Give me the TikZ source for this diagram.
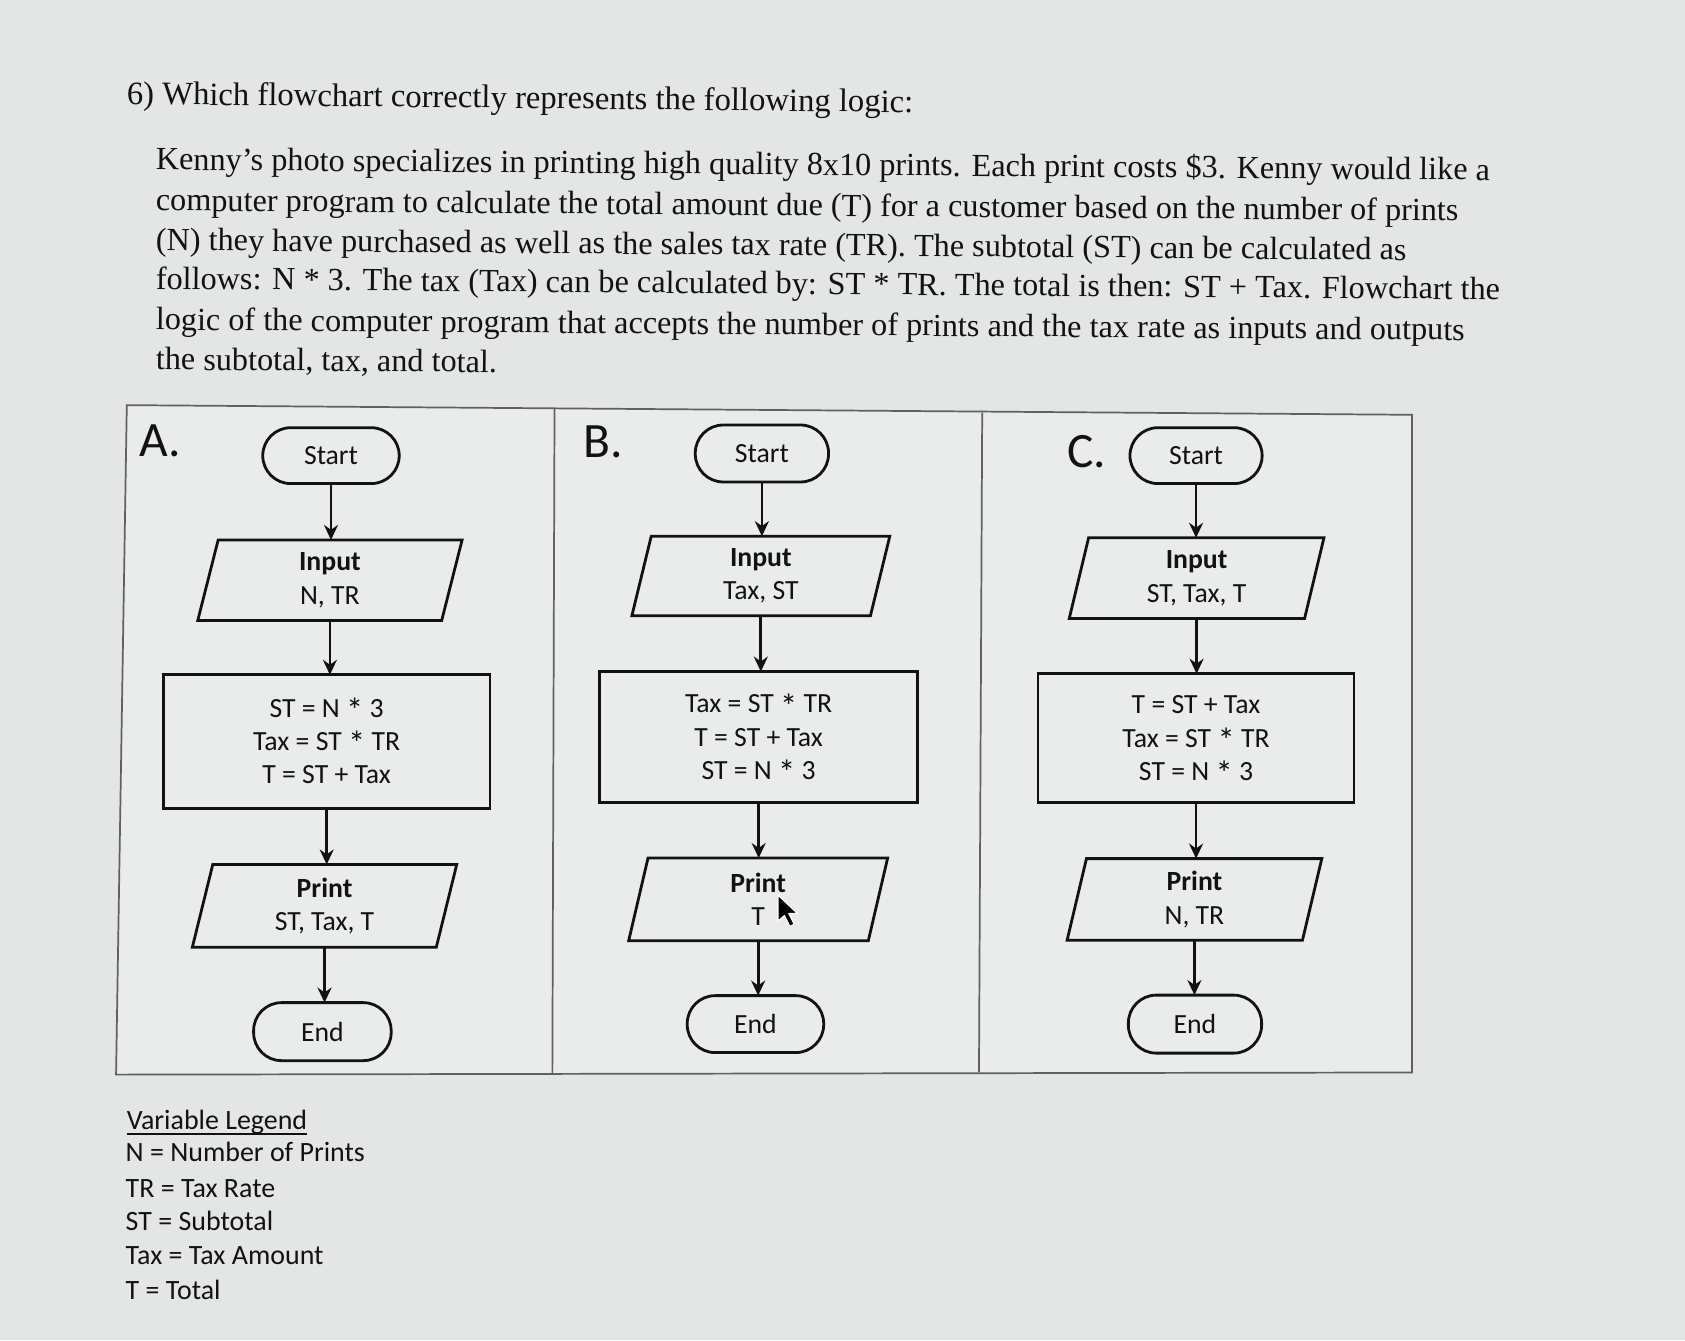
\documentclass[tikz,border=0pt]{standalone}
\usepackage{fontspec}
\usepackage{graphicx}
\setmainfont{Liberation Serif}
\newfontfamily\calibrifont{Carlito}
\usetikzlibrary{arrows.meta,calc}
\definecolor{paper}{RGB}{228,229,229}
\definecolor{panel}{RGB}{234,236,236}
\definecolor{ink}{RGB}{18,18,18}
\definecolor{rule}{RGB}{95,95,100}
\newcommand\flowfont{\calibrifont\fontsize{12.9}{15.5}\selectfont}
\newcommand\mstar{\smash{\raisebox{-0.4ex}{\scalebox{1.25}{*}}}}
\newcommand\iobox[2]{\draw[shapeline] ($(#1.north west)+(#2,0)$) -- ($(#1.north east)+(#2,0)$) -- ($(#1.south east)-(#2,0)$) -- ($(#1.south west)-(#2,0)$) -- cycle;}
\tikzset{
  shapeline/.style={draw=ink, line width=1.3pt, line join=miter},
  term/.style={draw=ink, line width=1.3pt, rounded corners=13pt, inner sep=0pt, outer sep=0pt, font=\flowfont, text=ink},
  proc/.style={draw=ink, line width=1.3pt, inner sep=0pt, outer sep=0pt, align=center, font=\flowfont, text=ink},
  io/.style={inner sep=0pt, outer sep=0pt, align=center, font=\flowfont, text=ink},
  flow/.style={draw=ink, line width=1.3pt, -{Stealth[length=7pt,width=6.5pt]}},
  body/.style={anchor=base west, inner sep=0pt, outer sep=0pt, font=\fontsize{15}{18}\selectfont, text=ink, rotate=-0.45},
  legend/.style={anchor=base west, inner sep=0pt, outer sep=0pt, font=\calibrifont\fontsize{13}{15}\selectfont, text=ink},
  plabel/.style={inner sep=0pt, font=\calibrifont\fontsize{23}{25}\selectfont, text=ink}
}
\begin{document}
\begin{tikzpicture}[x=0.5pt,y=-0.5pt]
\useasboundingbox (0,0) rectangle (1568,1247);
\fill[paper] (0,0) rectangle (1568,1247);
% table
\fill[panel] (118,377) -- (1314,386) -- (1314,998) -- (108,1000) -- cycle;
\draw[rule, line width=0.8pt] (118,377) -- (1314,386) -- (1314,998) -- (108,1000) -- cycle;
\draw[rule, line width=0.8pt] (516,380) -- (514,999);
\draw[rule, line width=0.8pt] (914,384) -- (911,998);
% question text
\node[body, rotate=-0.15, font=\fontsize{15.2}{18}\selectfont] (q) at (118,97) {6) Which flowchart correctly represents the following logic:};
\node[body] (l1) at (145,158) {Kenny’s photo specializes in printing high quality 8x10 prints. Each print costs \$3. Kenny would like a};
\node[body] (l2) at (145,196) {computer program to calculate the total amount due (T) for a customer based on the number of prints};
\node[body] (l3) at (145,233) {(N) they have purchased as well as the sales tax rate (TR). The subtotal (ST) can be calculated as};
\node[body] (l4) at (145,269) {follows: N * 3. The tax (Tax) can be calculated by: ST * TR. The total is then: ST + Tax. Flowchart the};
\node[body] (l5) at (145,307) {logic of the computer program that accepts the number of prints and the tax rate as inputs and outputs};
\node[body] (l6) at (145,344) {the subtotal, tax, and total.};
% panel A
\node[plabel] (la) at (149,410) {A.};
\node[term, minimum width=63.5pt, minimum height=26pt] (aS) at (308,424) {Start};
\node[io, minimum width=113.5pt, minimum height=37.5pt] (aI) at (307,540) {\textbf{Input}\\N, TR};
\iobox{aI}{9.5}
\node[proc, minimum width=152pt, minimum height=62pt] (aP) at (304,690) {ST = N \mstar{} 3\\Tax = ST \mstar{} TR\\T = ST + Tax};
\node[io, minimum width=113.5pt, minimum height=38.5pt] (aO) at (302,843) {\textbf{Print}\\ST, Tax, T};
\iobox{aO}{9.5}
\node[term, minimum width=64pt, minimum height=27pt] (aE) at (300,960) {End};
\draw[flow] (aS.south) -- (aS.south |- aI.north);
\draw[flow] (aI.south) -- (aI.south |- aP.north);
\draw[flow] (aP.south) -- (aP.south |- aO.north);
\draw[flow] (aO.south) -- (aO.south |- aE.north);
% panel B
\node[plabel] (lb) at (561,411) {B.};
\node[term, minimum width=62pt, minimum height=26.5pt] (bS) at (709,422) {Start};
\node[io, minimum width=111pt, minimum height=37pt] (bI) at (708,536) {\textbf{Input}\\Tax, ST};
\iobox{bI}{9}
\node[proc, minimum width=148pt, minimum height=61pt] (bP) at (706,686) {Tax = ST \mstar{} TR\\T = ST + Tax\\ST = N \mstar{} 3};
\node[io, minimum width=111.5pt, minimum height=38.5pt] (bO) at (705.5,837) {\textbf{Print}\\T};
\iobox{bO}{9}
\node[term, minimum width=63.5pt, minimum height=26.5pt] (bE) at (703,953) {End};
\draw[flow] (bS.south) -- (bS.south |- bI.north);
\draw[flow] (bI.south) -- (bI.south |- bP.north);
\draw[flow] (bP.south) -- (bP.south |- bO.north);
\draw[flow] (bO.south) -- (bO.south |- bE.north);
% mouse pointer
\filldraw[fill=black, draw=white, line width=0.5pt, line join=round] (724,833) -- (724,857) -- (730,852) -- (735,862) -- (739,860) -- (734,850) -- (742,850) -- cycle;
% panel C
\node[plabel] (lc) at (1011,420) {C.};
\node[term, minimum width=61.5pt, minimum height=26pt] (cS) at (1113,424) {Start};
\node[io, minimum width=109.5pt, minimum height=37.5pt] (cI) at (1113.5,538) {\textbf{Input}\\ST, Tax, T};
\iobox{cI}{9}
\node[proc, minimum width=147pt, minimum height=60pt] (cP) at (1113,687) {T = ST + Tax\\Tax = ST \mstar{} TR\\ST = N \mstar{} 3};
\node[io, minimum width=109.5pt, minimum height=38pt] (cO) at (1111.5,837) {\textbf{Print}\\N, TR};
\iobox{cO}{9}
\node[term, minimum width=62pt, minimum height=27pt] (cE) at (1112,953) {End};
\draw[flow] (cS.south) -- (cS.south |- cI.north);
\draw[flow] (cI.south) -- (cI.south |- cP.north);
\draw[flow] (cP.south) -- (cP.south |- cO.north);
\draw[flow] (cO.south) -- (cO.south |- cE.north);
% legend
\node[legend] (g0) at (118,1051) {Variable Legend};
\draw[ink, line width=0.9pt] ($(g0.base west)+(0,4)$) -- ($(g0.base east)+(0,4)$);
\node[legend] (g1) at (117,1081) {N = Number of Prints};
\node[legend] (g2) at (117,1114) {TR = Tax Rate};
\node[legend] (g3) at (117,1145) {ST = Subtotal};
\node[legend] (g4) at (117,1177) {Tax = Tax Amount};
\node[legend] (g5) at (117,1209) {T = Total};
\end{tikzpicture}
\end{document}
